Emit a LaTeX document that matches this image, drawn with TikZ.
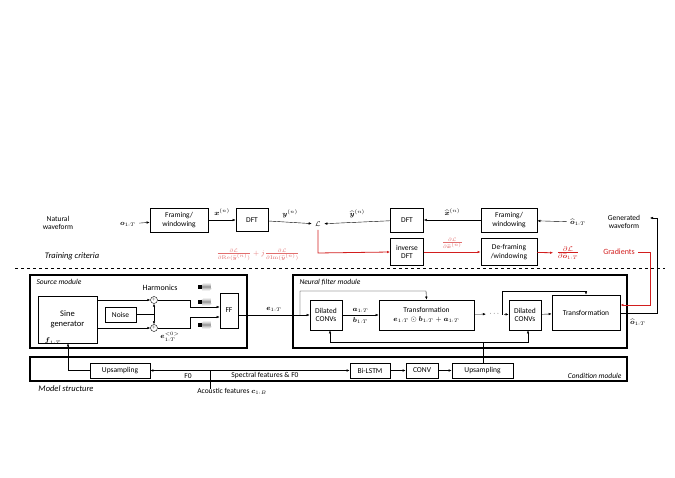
\documentclass[tikz,border=0pt]{standalone}
\usepackage{amsmath,amssymb}
\usepackage{fontspec}
\setsansfont{Carlito}
\usepackage{tikz}
\usetikzlibrary{arrows.meta,positioning}
\definecolor{gradred}{RGB}{210,30,30}
\definecolor{lightred}{RGB}{225,110,110}
\begin{document}
\begin{tikzpicture}[x=1pt,y=-1pt,font=\sffamily\fontsize{7.5}{8.5}\selectfont,
    blk/.style={draw,thick,align=center,inner sep=1pt},
    modbox/.style={draw,very thick},
    sumc/.style={draw,circle,inner sep=0pt,minimum size=7pt,font=\fontsize{4}{4}\selectfont},
    arr/.style={-{Latex[length=3pt,width=2.5pt]}},
    redarr/.style={-{Latex[length=3pt,width=2.5pt]},gradred,thick},
    modlabel/.style={font=\itshape\sffamily\fontsize{7.5}{8}\selectfont}
  ]
  \useasboundingbox (0,0) rectangle (675,478);

  % training criteria
  \node[align=center] (natw) at (58,223) {Natural\\waveform};
  \node (o) at (128,224) {$\boldsymbol{o}_{1:T}$};
  \node[blk,minimum width=58pt,minimum height=24pt] (fram1) at (179,220) {Framing/\\windowing};
  \node[blk,minimum width=32pt,minimum height=23pt] (dft1) at (252,220) {DFT};
  \node (L) at (318,224) {$\mathcal{L}$};
  \node[blk,minimum width=33pt,minimum height=24pt] (dft2) at (407,220) {DFT};
  \node[blk,minimum width=56pt,minimum height=24pt] (fram2) at (509,220) {Framing/\\windowing};
  \node (oh) at (578,222) {$\widehat{\boldsymbol{o}}_{1:T}$};
  \node[align=center] (genw) at (624,222) {Generated\\waveform};
  \node[blk,minimum width=33pt,minimum height=27pt] (idft) at (407,252) {inverse\\DFT};
  \node[blk,minimum width=56pt,minimum height=27pt] (defram) at (509,252) {De-framing\\/windowing};
  \node[gradred] (dLdo) at (568,253) {\normalsize$\frac{\partial\mathcal{L}}{\partial\widehat{\boldsymbol{o}}_{1:T}}$};
  \node[gradred,font=\sffamily\fontsize{8}{9}\selectfont] (grad) at (619,252) {Gradients};
  \node[font=\itshape\sffamily\fontsize{8.5}{9}\selectfont] (train) at (72,256) {Training criteria};

  \draw[arr] (o) -- (fram1);
  \draw[arr] (fram1) -- node[above=1pt] {$\boldsymbol{x}^{(n)}$} (dft1);
  \draw[arr] (dft1) -- node[above=1pt] {$\boldsymbol{y}^{(n)}$} (L);
  \draw[arr] (dft2) -- node[above=1pt] {$\widehat{\boldsymbol{y}}^{(n)}$} (L);
  \draw[arr] (fram2) -- node[above=1pt] {$\widehat{\boldsymbol{x}}^{(n)}$} (dft2);
  \draw[arr] (oh) -- (fram2);
  \draw[redarr] (L.south) -- (318,253) -- (idft.west);
  \node[lightred] (dLdy) at (258,255) {$\frac{\partial\mathcal{L}}{\partial\mathrm{Re}(\widehat{\boldsymbol{y}}^{(n)})}+j\frac{\partial\mathcal{L}}{\partial\mathrm{Im}(\widehat{\boldsymbol{y}}^{(n)})}$};
  \draw[redarr] (idft) -- node[above,lightred] {$\frac{\partial\mathcal{L}}{\partial\widehat{\boldsymbol{x}}^{(n)}}$} (defram);
  \draw[redarr] (defram) -- (dLdo);

  \draw[dashed] (15,268) -- (665,268);

  % source module
  \draw[modbox] (30,275) rectangle (247,348);
  \node[modlabel,anchor=west] (srcl) at (33,282) {Source module};
  \node[blk,minimum width=59pt,minimum height=47pt,font=\sffamily\fontsize{8.5}{10}\selectfont] (sine) at (67.5,319.5) {Sine\\generator};
  \node[blk,minimum width=31pt,minimum height=15pt] (noise) at (120.5,314.5) {Noise};
  \node[sumc] (s1) at (154,300) {+};
  \node[sumc] (s2) at (154,328) {+};
  \node[font=\sffamily\fontsize{8}{9}\selectfont] (harm) at (160,288) {Harmonics};
  \node[blk,minimum width=18pt,minimum height=35pt] (ff) at (229,310.5) {FF};
  \node (f) at (53,341) {$\boldsymbol{f}_{1:T}$};
  \node (e0) at (170,337) {$\boldsymbol{e}_{1:T}^{<0>}$};
  \foreach \yy in {287,302,325}{
    \draw[gray,line width=0.5pt] (202,\yy-2.5) -- (203,\yy+2.5) -- (204,\yy-2.5) -- (205,\yy+2.5) -- (206,\yy-2.5) -- (207,\yy+2.5) -- (208,\yy-2.5) -- (209,\yy+2.5) -- (210,\yy-2.5) -- (211,\yy+2.5);
    \fill (198,\yy-2) rectangle (202,\yy+2);
  }

  \draw[arr] (sine.east |- s1) -- (s1);
  \draw[arr] (sine.east |- s2) -- (s2);
  \draw (noise) -- (154,314.5);
  \draw[arr] (154,314.5) -- (s1);
  \draw[arr] (154,314.5) -- (s2);
  \draw[arr] (s1) -- (190,300) -- (190,307) -- (ff.west |- 0,307);
  \draw[arr] (s2) -- (190,328) -- (190,317) -- (ff.west |- 0,317);

  % neural filter module
  \draw[modbox] (293,275) rectangle (627,348);
  \node[modlabel,anchor=west] (nfl) at (296,282) {Neural filter module};
  \node[blk,minimum width=32pt,minimum height=30pt] (dc1) at (326,315) {Dilated\\CONVs};
  \node[blk,minimum width=95pt,minimum height=30pt] (tr1) at (426.5,315) {Transformation\\$\boldsymbol{e}_{1:T}\odot\boldsymbol{b}_{1:T}+\boldsymbol{a}_{1:T}$};
  \node (dots) at (495,314) {$\cdots$};
  \node[blk,minimum width=32pt,minimum height=30pt] (dc2) at (525,315) {Dilated\\CONVs};
  \node[blk,minimum width=68pt,minimum height=35pt] (tr2) at (586,312.5) {Transformation};
  \draw[arr] (ff.east |- dc1) -- node[above] {$\boldsymbol{e}_{1:T}$} (dc1);
  \draw[arr] (dc1) -- node[above=-1pt] {$\boldsymbol{a}_{1:T}$} node[below=-1pt] {$\boldsymbol{b}_{1:T}$} (tr1);
  \draw[arr] (tr1) -- (dots);
  \draw[arr] (dots) -- (dc2);
  \draw[arr] (dc2) -- (tr2);
  \draw[arr] (300,315) -- (300,291) -- (426,291) -- (tr1.north);
  \draw[arr] (502,315) -- (502,291) -- (586,291) -- (tr2.north);
  \draw[arr] (tr2.east |- 0,313) -- (657,313) -- (657,218) -- (650,218);
  \node (oh2) at (638,322) {$\widehat{\boldsymbol{o}}_{1:T}$};
  \draw[redarr] (grad.east) -- (650,252) -- (650,305) -- (tr2.east |- 0,305);

  % condition module
  \draw[modbox] (30,357) rectangle (627,381);
  \node[modlabel,anchor=east] (cml) at (625,376) {Condition module};
  \node[blk,minimum width=60pt,minimum height=15pt] (up1) at (120,370.5) {Upsampling};
  \node[blk,minimum width=40pt,minimum height=15pt] (lstm) at (370,370.5) {Bi-LSTM};
  \node[blk,minimum width=32pt,minimum height=15pt] (conv) at (422,370.5) {CONV};
  \node[blk,minimum width=61pt,minimum height=15pt] (up2) at (482.5,370.5) {Upsampling};
  \node (f0) at (188,376) {F0};
  \node (spec) at (265,376) {Spectral features \& F0};
  \coordinate (split) at (210,370.5);
  \node[font=\sffamily\fontsize{7.5}{8}\selectfont] (acou) at (232,391) {Acoustic features $\boldsymbol{c}_{1:B}$};
  \draw (210,389) -- (split);
  \draw[arr] (split) -- (up1);
  \draw[arr] (split) -- (lstm);
  \draw[arr] (lstm) -- (conv);
  \draw[arr] (conv) -- (up2);
  \draw[arr] (up1.west) -- (68,370.5) -- (sine.south -| 68,0);
  \draw (up2.north -| 483,0) -- (483,342);
  \draw[arr] (483,342) -- (330,342) -- (dc1.south -| 330,0);
  \draw[arr] (483,342) -- (528,342) -- (dc2.south -| 528,0);
  \node[font=\itshape\sffamily\fontsize{8.5}{9}\selectfont] (model) at (66,389) {Model structure};
\end{tikzpicture}
\end{document}
